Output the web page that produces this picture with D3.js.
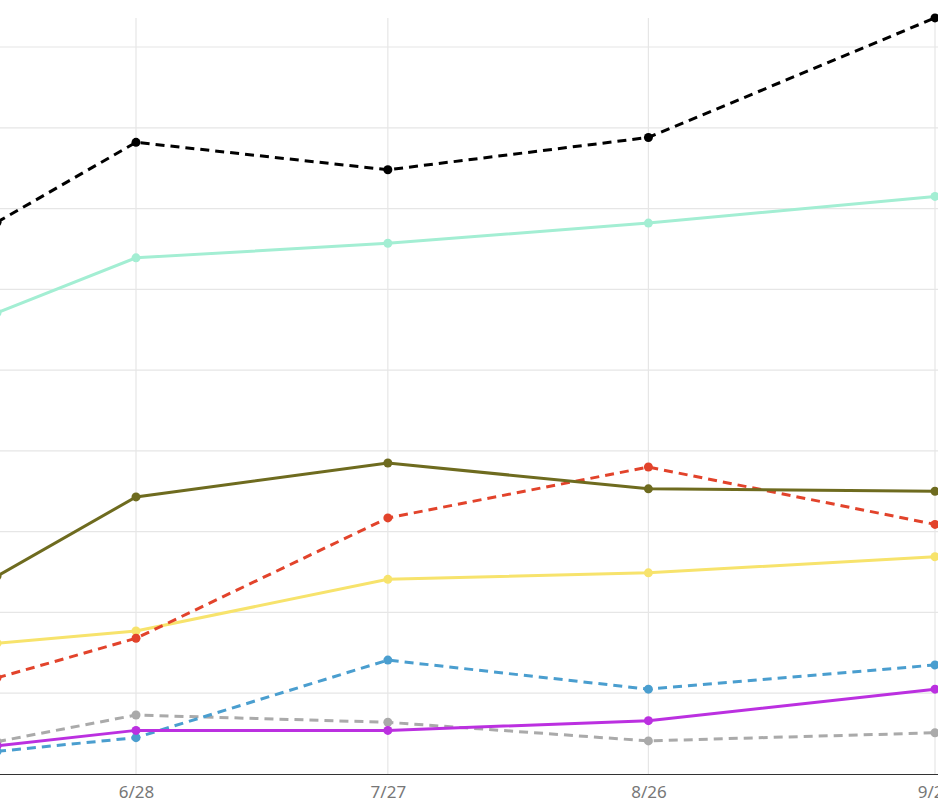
<!DOCTYPE html>
<html>
<head>
<meta charset="utf-8">
<script src="https://cdn.jsdelivr.net/npm/d3@7"></script>
<style>
  body { margin: 0; background: #fff; }
  text { font-family: "Noto Sans", sans-serif; }
</style>
</head>
<body>
<div id="chart"></div>
<script>
// Data
var dates = ["2020-06-12", "2020-06-28", "2020-07-27", "2020-08-26", "2020-09-28"];
var tickDates = ["2020-06-28", "2020-07-27", "2020-08-26", "2020-09-28"];

var blackVals  = [6.83, 7.82, 7.48, 7.88, 9.36];
var aquaVals   = [5.71, 6.39, 6.57, 6.82, 7.15];
var oliveVals  = [2.45, 3.43, 3.85, 3.53, 3.50];
var redVals    = [1.19, 1.68, 3.17, 3.80, 3.09];
var yellowVals = [1.62, 1.77, 2.41, 2.49, 2.69];
var blueVals   = [0.28, 0.45, 1.41, 1.05, 1.35];
var grayVals   = [0.40, 0.73, 0.64, 0.41, 0.51];
var purpleVals = [0.35, 0.54, 0.54, 0.66, 1.05];

var series = [
  { vals: grayVals,   color: "#aaaaaa", dash: true },
  { vals: blueVals,   color: "#4a9ecf", dash: true },
  { vals: purpleVals, color: "#bb30e0", dash: false },
  { vals: yellowVals, color: "#f7e36c", dash: false },
  { vals: redVals,    color: "#e2432b", dash: true },
  { vals: oliveVals,  color: "#6e6b1f", dash: false },
  { vals: aquaVals,   color: "#a3eed3", dash: false },
  { vals: blackVals,  color: "#000000", dash: true }
];

var svgWidth = 938, svgHeight = 804;
var parse = d3.timeParse("%Y-%m-%d");

var svg = d3.select("#chart").append("svg")
  .attr("width", svgWidth).attr("height", svgHeight);

var x = d3.scaleTime()
  .domain([parse("2020-06-28"), parse("2020-09-28")])
  .range([136, 935]);
var y = d3.scaleLinear().domain([0, 9]).range([774, 47]);

// horizontal grid
svg.append("g").selectAll("line")
  .data(d3.range(1, 10))
  .enter().append("line")
  .attr("x1", 0).attr("x2", svgWidth)
  .attr("y1", d => y(d)).attr("y2", d => y(d))
  .attr("stroke", "#e6e6e6").attr("stroke-width", 1.2);

// vertical grid
svg.append("g").selectAll("line")
  .data(tickDates)
  .enter().append("line")
  .attr("x1", d => x(parse(d))).attr("x2", d => x(parse(d)))
  .attr("y1", 18).attr("y2", 774)
  .attr("stroke", "#e6e6e6").attr("stroke-width", 1.2);

// bottom axis
var bottomAxis = d3.axisBottom(x)
  .tickValues(tickDates.map(parse))
  .tickFormat(d3.timeFormat("%-m/%-d"))
  .tickSize(0).tickPadding(12);

var ax = svg.append("g")
  .attr("transform", "translate(0, 774)")
  .call(bottomAxis);
ax.select(".domain").remove();
ax.selectAll("text").style("font-size", "17px").attr("fill", "#777");
svg.append("line").attr("x1", 0).attr("x2", svgWidth)
  .attr("y1", 774.5).attr("y2", 774.5).attr("stroke", "#333").attr("stroke-width", 1);

var line = d3.line()
  .x((d, i) => x(parse(dates[i])))
  .y(d => y(d));

series.forEach(function(s) {
  svg.append("path")
    .datum(s.vals)
    .attr("d", line)
    .attr("fill", "none")
    .attr("stroke", s.color)
    .attr("stroke-width", 3)
    .attr("stroke-dasharray", s.dash ? "9,6" : null);

  svg.append("g").selectAll("circle")
    .data(s.vals)
    .enter().append("circle")
    .attr("cx", (d, i) => x(parse(dates[i])))
    .attr("cy", d => y(d))
    .attr("r", 4.5)
    .attr("fill", s.color);
});
</script>
</body>
</html>
